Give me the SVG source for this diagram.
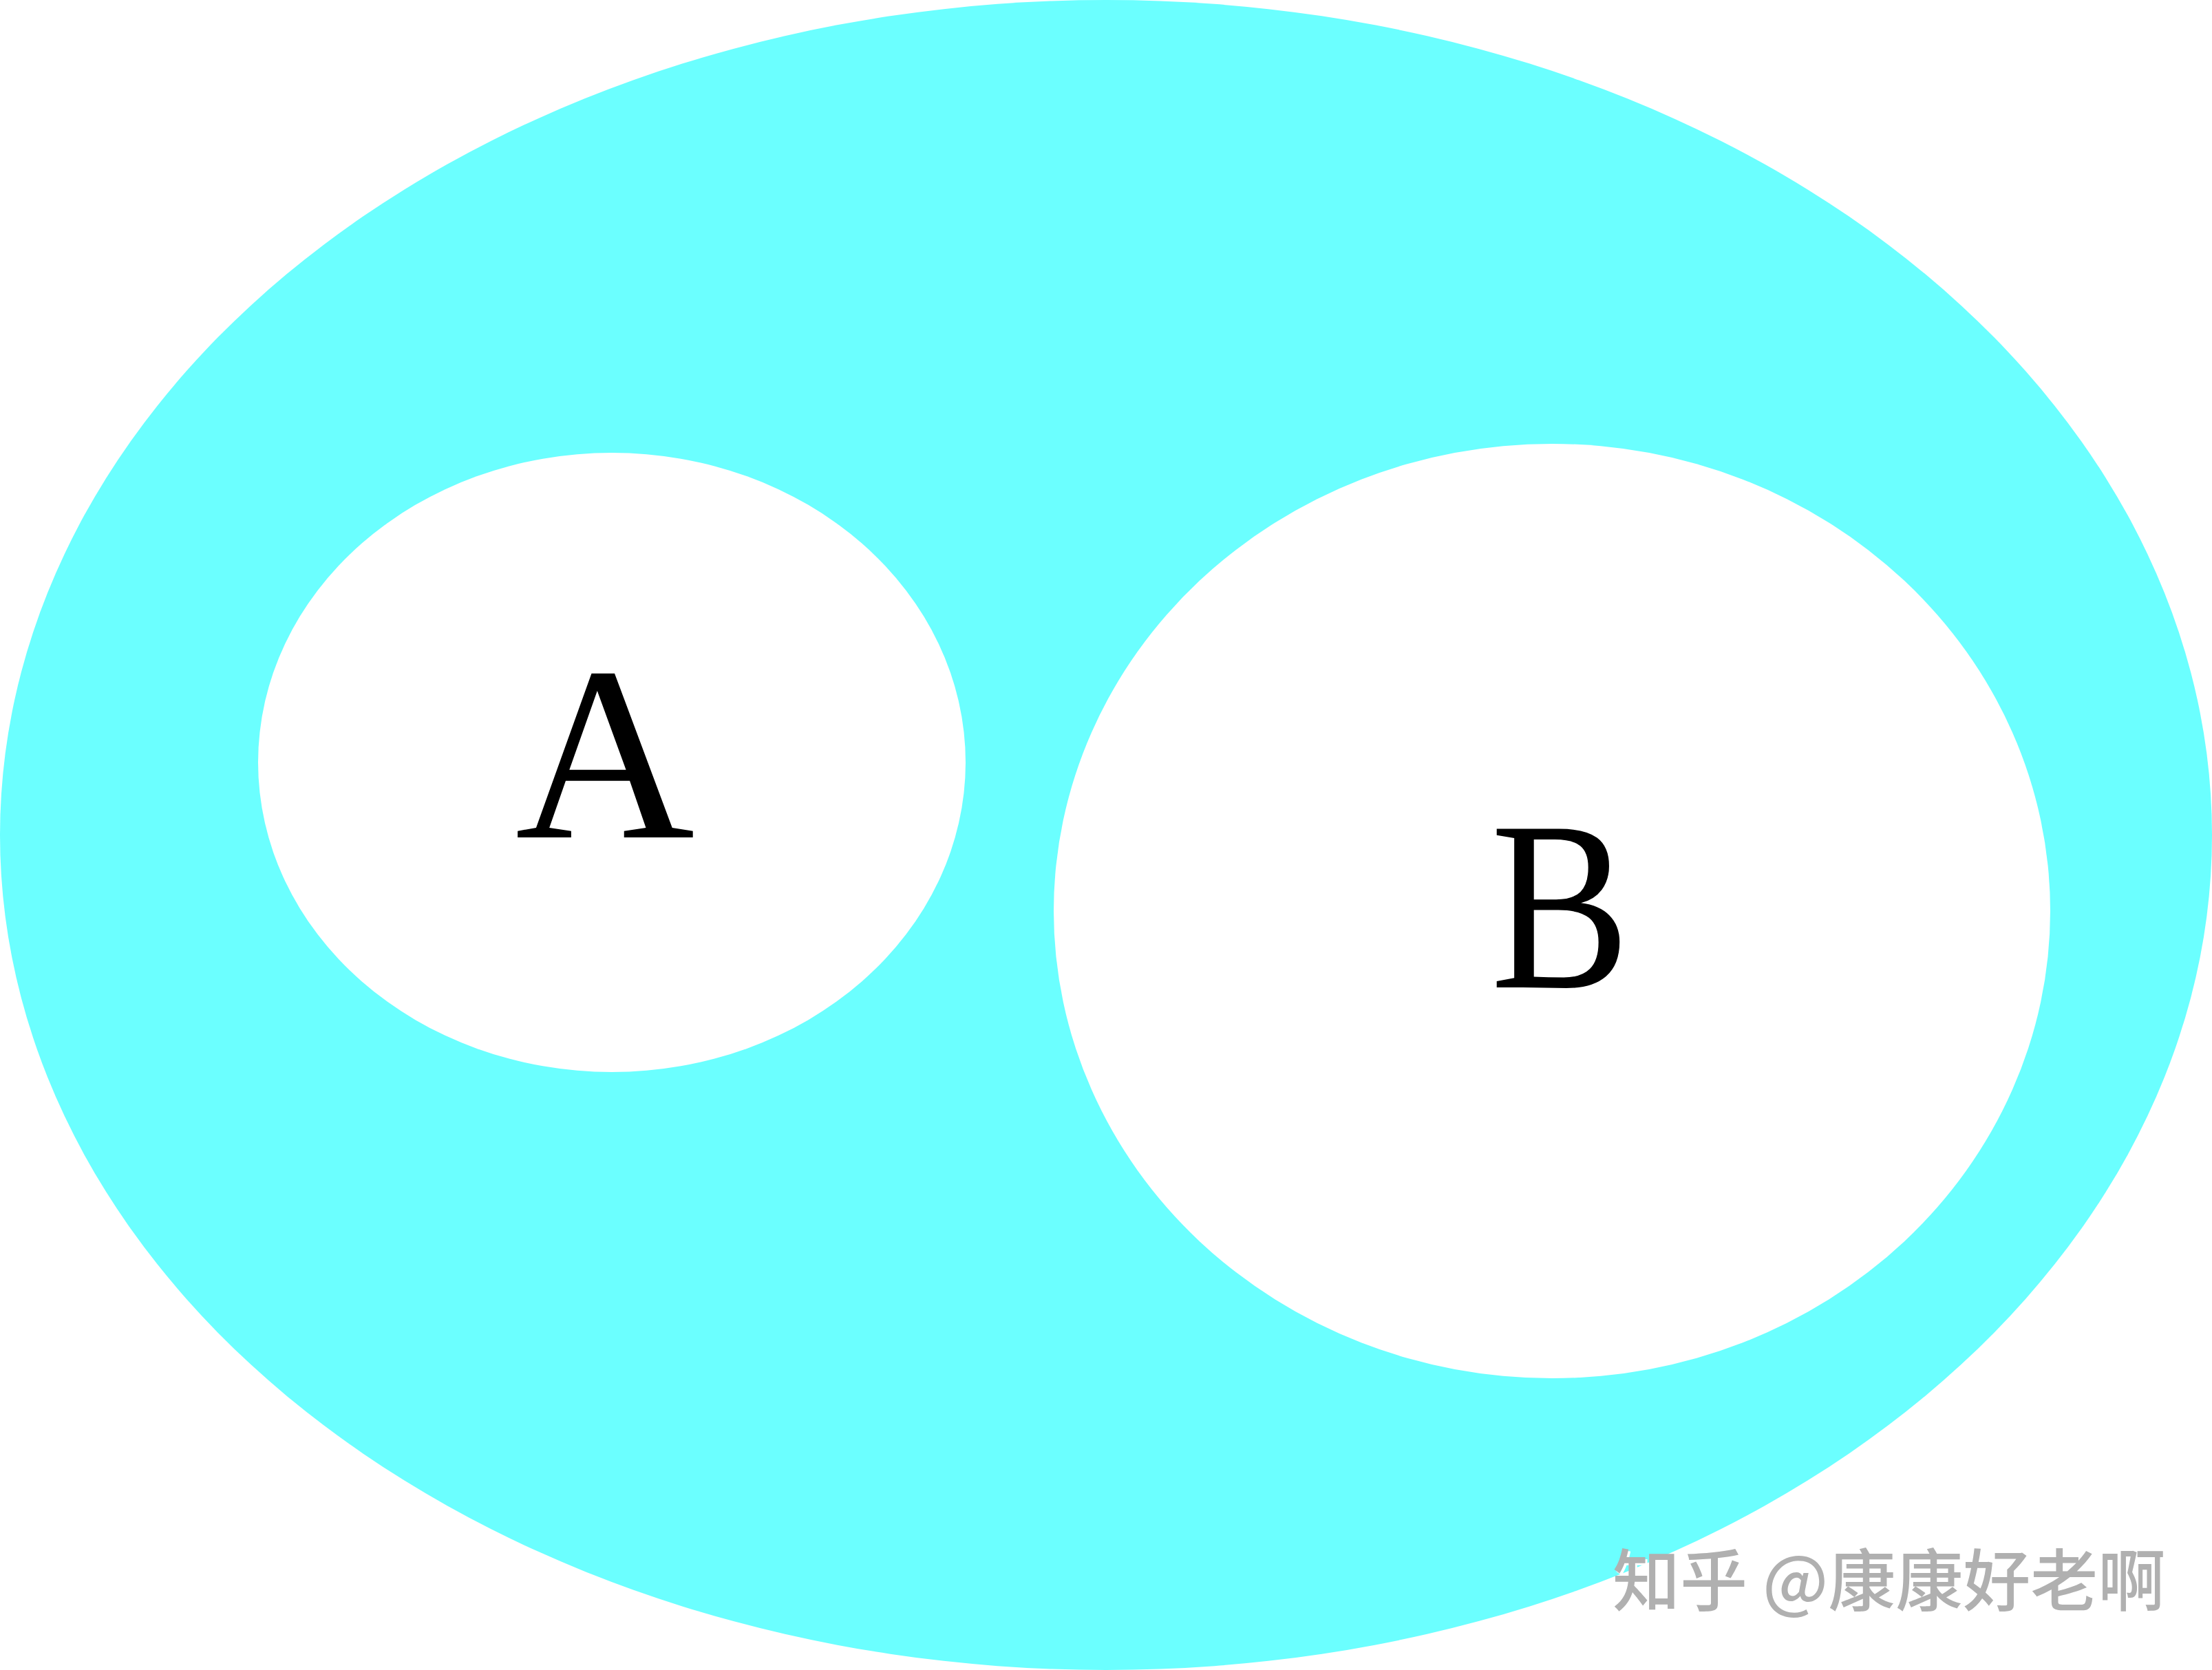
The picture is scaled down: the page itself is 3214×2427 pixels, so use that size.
<svg xmlns="http://www.w3.org/2000/svg" width="3214" height="2427" viewBox="0 0 3214 2427">
<style>
.set{fill:#6bffff}
.sub{fill:#ffffff}
.lbl{font-family:"Liberation Serif","DejaVu Serif",serif;fill:#000;text-anchor:middle}
.wm{font-family:"Noto Sans CJK SC","Noto Sans",sans-serif;font-size:98px;font-weight:500}
</style>
<rect width="3214" height="2427" fill="#ffffff"/>
<g id="universe"><ellipse class="set" cx="1607" cy="1213.5" rx="1607" ry="1213.5"/></g>
<g id="A"><ellipse class="sub" cx="889" cy="1108" rx="514" ry="450"/>
<text class="lbl" x="879" y="1217" font-size="361">A</text></g>
<g id="B"><ellipse class="sub" cx="2255" cy="1324" rx="724" ry="679"/>
<text class="lbl" x="2267" y="1435" font-size="352" textLength="202" lengthAdjust="spacingAndGlyphs">B</text></g>
<g id="connectors"></g>
<g id="watermark">
<text class="wm" x="2346" y="2336" fill="#ffffff">知乎 @康康好老啊</text>
<text class="wm" x="2343" y="2333" fill="#b0b0b0">知乎 @康康好老啊</text>
</g>
</svg>
